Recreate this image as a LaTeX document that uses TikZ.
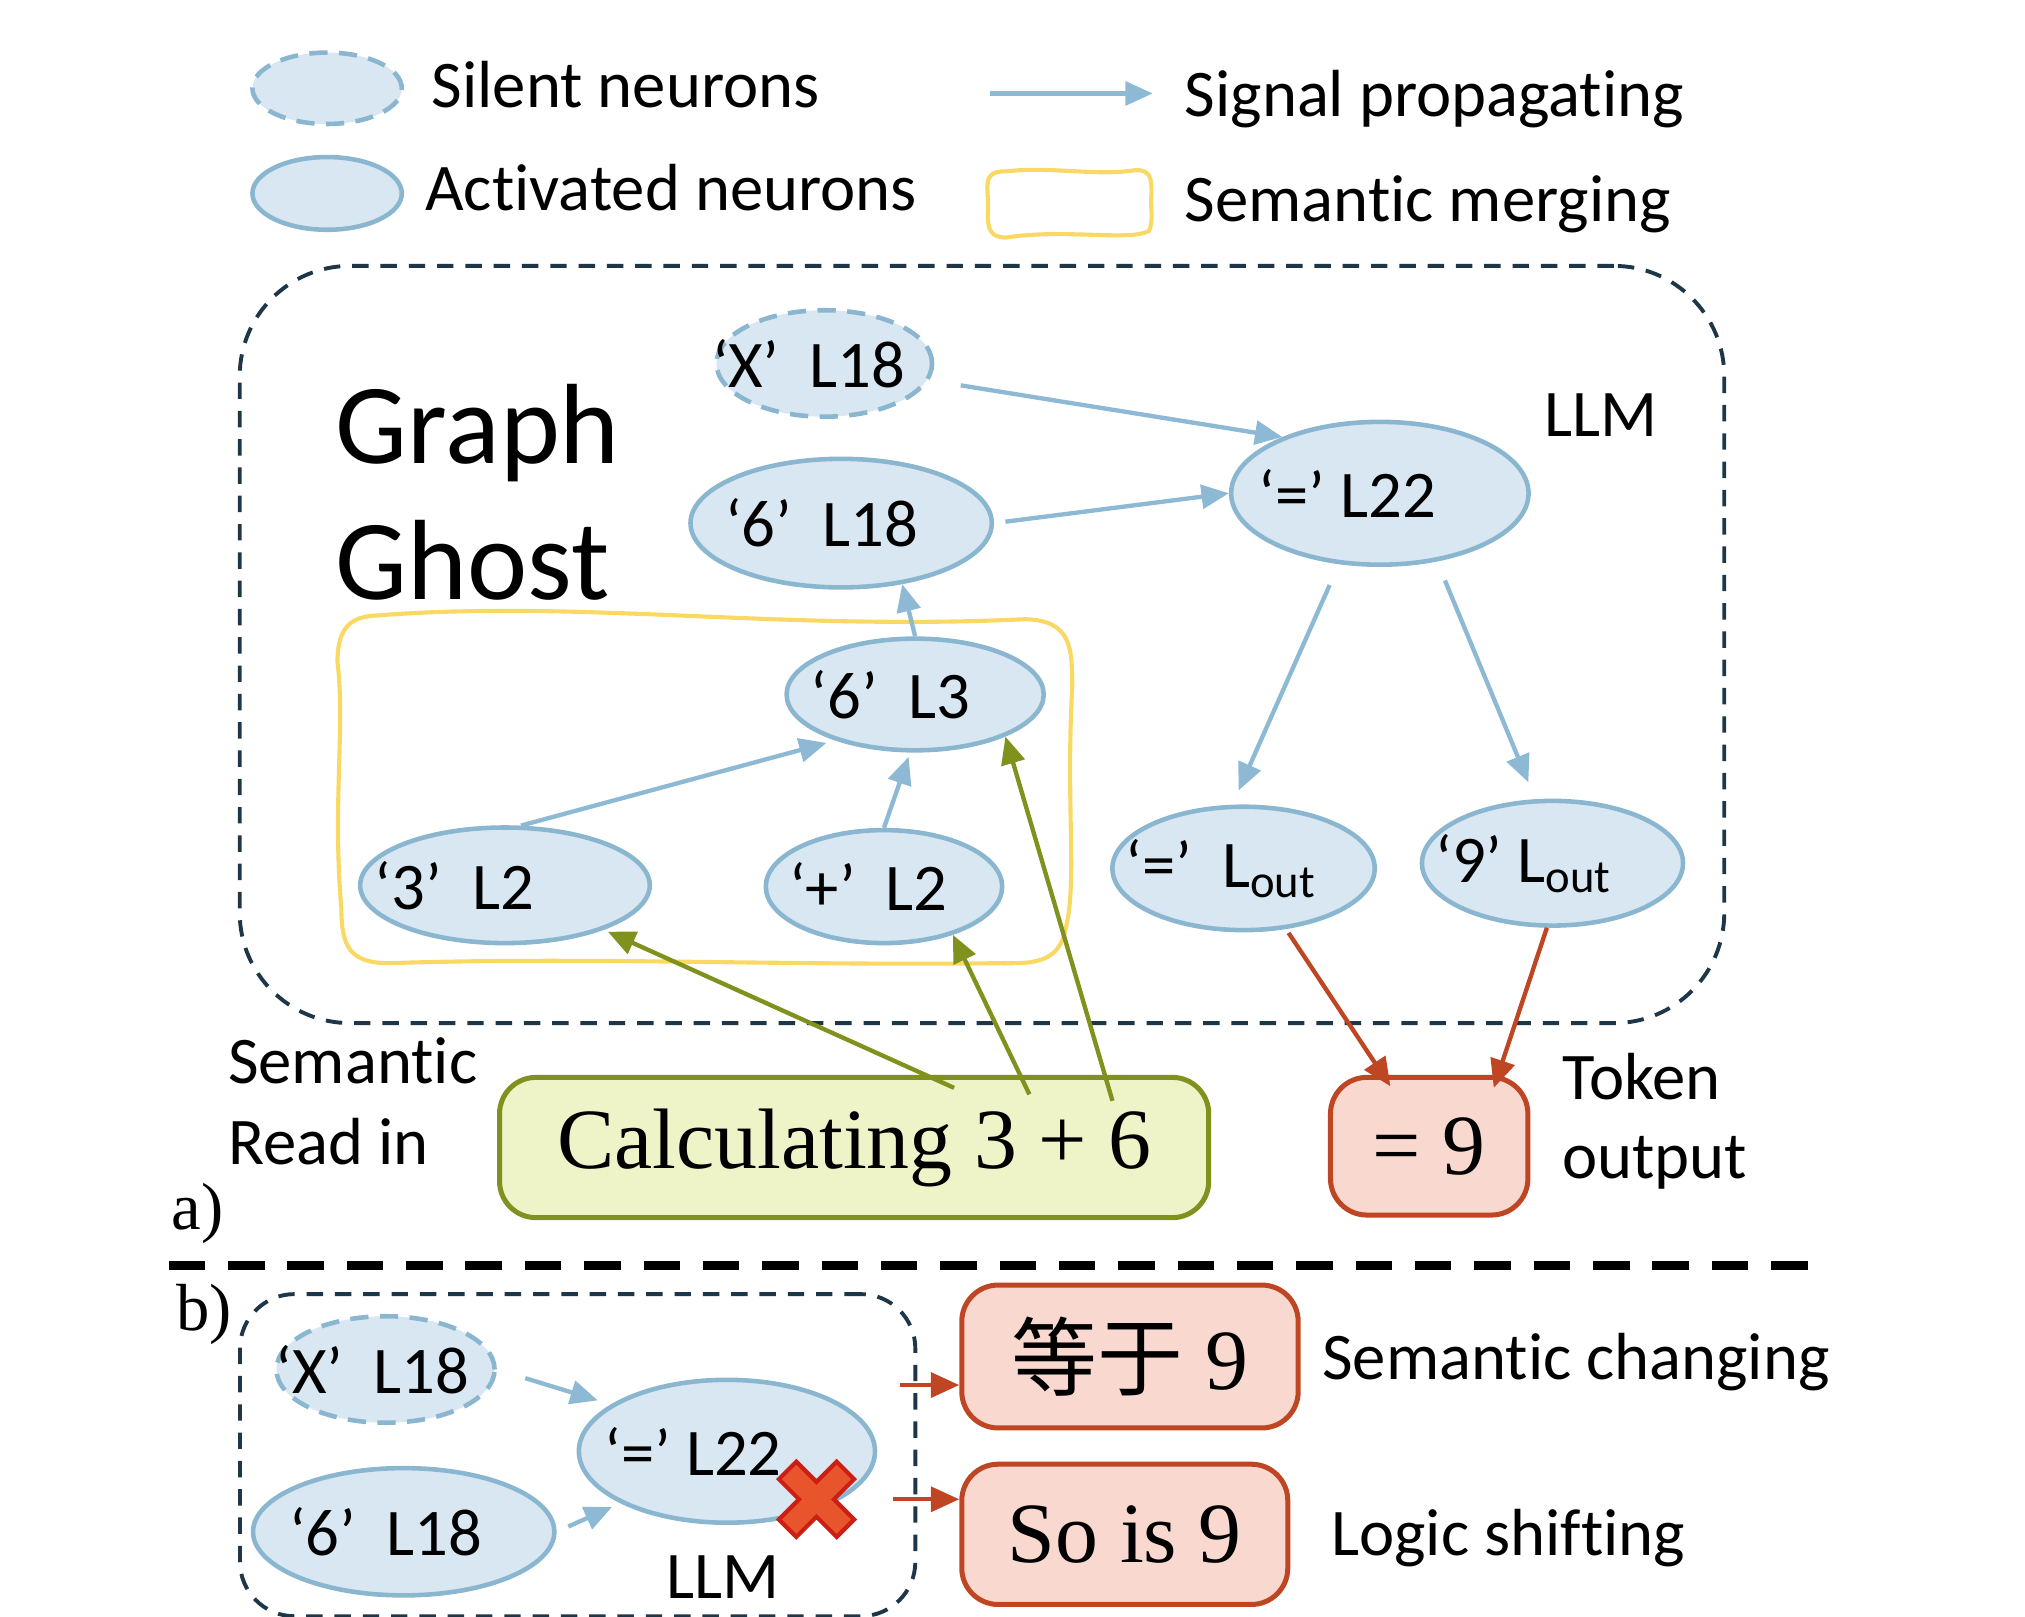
\documentclass[tikz,border=0pt]{standalone}
\usepackage{fontspec}
\setmainfont{Carlito}[Ligatures=NoCommon]
\newfontfamily\serifbox{Liberation Serif}
\newfontfamily\cjk{Noto Sans CJK SC}
\usepackage{tikz}
\usetikzlibrary{positioning}
\usetikzlibrary{arrows.meta}
\usetikzlibrary{shapes,calc}
\definecolor{neuronfill}{RGB}{216,231,241}
\definecolor{neuronline}{RGB}{138,182,208}
\definecolor{sigblue}{RGB}{141,185,213}
\definecolor{mergeyellow}{RGB}{250,216,100}
\definecolor{readolive}{RGB}{128,145,30}
\definecolor{readfill}{RGB}{238,243,200}
\definecolor{outred}{RGB}{190,70,35}
\definecolor{outfill}{RGB}{249,216,207}
\definecolor{llmnavy}{RGB}{30,55,72}
\definecolor{crossfill}{RGB}{232,85,45}
\definecolor{crossline}{RGB}{205,30,20}
\newcommand{\mainsize}{\fontsize{14.6}{17}\selectfont}
\newcommand{\bigsize}{\fontsize{25}{29}\selectfont}
\newcommand{\boxsize}{\fontsize{18.8}{22}\selectfont}
\tikzset{neuron/.style={ellipse,fill=neuronfill,draw=neuronline,line width=1pt,inner sep=0pt,font=\mainsize},
  silent neuron/.style={neuron,dash pattern=on 4pt off 2.5pt},
  neuron text/.style={font=\mainsize,inner sep=0pt},
  out box/.style={rectangle,rounded corners=0.28cm,fill=outfill,draw=outred,line width=1.1pt,inner sep=0pt,font=\serifbox\boxsize},
  llm box/.style={rectangle,draw=llmnavy,line width=0.85pt,dash pattern=on 3.6pt off 2.6pt,inner sep=0pt},
  sig/.style={color=sigblue,line width=0.95pt,-{Triangle[length=6pt,width=5.2pt]}},
  feed/.style={color=readolive,line width=0.95pt,-{Triangle[length=6pt,width=5.2pt]}},
  emit/.style={color=outred,line width=0.95pt,-{Triangle[length=6.2pt,width=5.4pt]}},
  label text/.style={font=\mainsize,inner sep=0pt},
}

\begin{document}
\begin{tikzpicture}[x=0.01cm, y=-0.01cm]
  \useasboundingbox (0,0) rectangle (1560,1245);

  % legend
  \node[silent neuron, minimum width=1.15cm, minimum height=0.55cm] (lgsilent) at (252,68) {};
  \node[label text, anchor=base west] (lgsilenttxt) at (332,83) {Silent neurons};
  \node[neuron, minimum width=1.15cm, minimum height=0.56cm] (lgactive) at (252,149) {};
  \node[label text, anchor=base west] (lgactivetxt) at (327,162) {Activated neurons};
  \coordinate (lgsigA) at (763,72);
  \coordinate (lgsigB) at (888,72);
  \draw[sig] (lgsigA) -- (lgsigB);
  \node[label text, anchor=base west] (lgsigtxt) at (912,90) {Signal propagating};
  \draw[mergeyellow, line width=0.9pt] (775,132) .. controls (810,128) and (845,136) .. (875,131)
    .. controls (888,131) and (887,140) .. (887,150) .. controls (886,160) and (889,170) .. (885,178)
    .. controls (870,186) and (820,176) .. (775,183) .. controls (762,183) and (761,175) .. (761,165)
    .. controls (762,152) and (759,142) .. (762,137) .. controls (765,132) and (770,132) .. (775,132) -- cycle;
  \node[label text, anchor=base west] (lgmergetxt) at (912,171) {Semantic merging};

  % part a)
  \node[llm box, rounded corners=0.85cm, minimum width=11.43cm, minimum height=5.83cm] (llm) at (756.5,496.5) {};
  \node[label text] (llmtxt) at (1233,320) {LLM};
  \node[font=\bigsize, inner sep=0pt, anchor=base west] (graph) at (258,357) {Graph};
  \node[font=\bigsize, inner sep=0pt, anchor=base west] (ghost) at (258,462) {Ghost};

  \draw[mergeyellow, line width=0.9pt] (292,474) .. controls (450,462) and (600,486) .. (790,477)
    .. controls (826,478) and (826,500) .. (826,530) .. controls (821,620) and (830,680) .. (821,715)
    .. controls (816,744) and (792,742) .. (770,742) .. controls (600,744) and (450,737) .. (300,742)
    .. controls (270,742) and (263,730) .. (263,700) .. controls (256,620) and (266,560) .. (260,510)
    .. controls (260,478) and (275,475) .. (292,474) -- cycle;

  \node[silent neuron, minimum width=1.66cm, minimum height=0.82cm,
    label={[neuron text, xshift=-0.12cm]center:‘X’~~L18}] (x18) at (635,280) {};
  \node[neuron, minimum width=2.32cm, minimum height=0.99cm,
    label={[neuron text, xshift=-0.15cm]center:‘6’~~L18}] (six18) at (648,403) {};
  \node[neuron, minimum width=2.29cm, minimum height=1.10cm,
    label={[neuron text, xshift=-0.25cm]center:‘=’ L22}] (eq22) at (1063,380) {};
  \node[neuron, minimum width=1.98cm, minimum height=0.86cm,
    label={[neuron text, xshift=-0.19cm]center:‘6’~~L3}] (six3) at (705,535) {};
  \node[neuron, minimum width=2.23cm, minimum height=0.89cm,
    label={[neuron text, xshift=-0.39cm]center:‘3’~~L2}] (three2) at (389,682) {};
  \node[neuron, minimum width=1.82cm, minimum height=0.87cm,
    label={[neuron text, xshift=-0.12cm]center:‘+’~~L2}] (plus2) at (681,683) {};
  \node[neuron, minimum width=2.02cm, minimum height=0.95cm,
    label={[neuron text, xshift=-0.17cm]center:‘=’~~L\textsubscript{out}}] (eqout) at (958,669) {};
  \node[neuron, minimum width=2.01cm, minimum height=0.96cm,
    label={[neuron text, xshift=-0.22cm]center:‘9’ L\textsubscript{out}}] (nineout) at (1196,665) {};

  \node[rectangle, rounded corners=0.28cm, fill=readfill, draw=readolive, line width=1.1pt,
    minimum width=5.46cm, minimum height=1.08cm, inner sep=0pt, font=\serifbox\boxsize] (calc) at (658,884) {Calculating 3 + 6};
  \node[out box, minimum width=1.52cm, minimum height=1.06cm] (tok) at (1101,883) {= 9};

  \node[label text, anchor=base west] (semtxt) at (175,835) {Semantic};
  \node[label text, anchor=base west] (readtxt) at (175,897) {Read in};
  \node[label text, anchor=base west] (tokentxt) at (1203,847) {Token};
  \node[label text, anchor=base west] (outputtxt) at (1203,908) {output};
  \node[font=\serifbox\mainsize, inner sep=0pt] (parta) at (152,935) {a)};

  \draw[sig, shorten <=7pt] (x18) -- (eq22.150);
  \draw[sig, shorten <=2.5pt] (six18.east) -- (eq22.west);
  \draw[sig, shorten <=5pt, shorten >=3.4pt] (eq22.240) -- (eqout.100);
  \draw[sig, shorten <=4.5pt, shorten >=4pt] (eq22.310) -- (nineout.105);
  \draw[sig] (six3.north) -- (six18.315);
  \draw[sig, shorten >=2pt] (three2.75) -- (six3.210);
  \draw[sig, shorten >=1pt] (plus2.north) -- (six3.265);

  \coordinate (feedA) at ($(calc.north)+(77,10)$);
  \coordinate (feedB) at ($(calc.north)+(135,15)$);
  \coordinate (feedC) at ($(calc.north)+(199,20)$);
  \draw[feed, shorten >=1pt] (feedA) -- (three2);
  \draw[feed] (feedB) -- (plus2.325);
  \draw[feed] (feedC) -- (six3.335);

  \draw[emit, shorten <=1pt, shorten >=-3pt] (eqout.305) -- (tok.123);
  \draw[emit, shorten >=-3pt] (nineout.265) -- (tok.46);

  \draw[black, line width=2pt, dash pattern=on 8pt off 5pt] (130,975) -- (1395,975);

  % part b)
  \node[font=\serifbox\mainsize, inner sep=0pt] (partb) at (157,1013) {b)};
  \node[llm box, rounded corners=0.42cm, minimum width=5.20cm, minimum height=2.48cm] (llmb) at (445,1121) {};
  \node[label text] (llmbtxt) at (557,1215) {LLM};
  \node[silent neuron, minimum width=1.68cm, minimum height=0.82cm,
    label={[neuron text, xshift=-0.10cm]center:‘X’~~L18}] (x18b) at (297,1055) {};
  \node[neuron, minimum width=2.32cm, minimum height=0.98cm,
    label={[neuron text, xshift=-0.14cm]center:‘6’~~L18}] (six18b) at (311,1180) {};
  \node[neuron, minimum width=2.28cm, minimum height=1.10cm,
    label={[neuron text, xshift=-0.26cm]center:‘=’ L22}] (eq22b) at (560,1118) {};

  \draw[sig, shorten <=6.5pt, shorten >=3pt] (x18b.east) -- (eq22b.158);
  \draw[sig, shorten <=2.8pt, shorten >=2pt] (six18b.east) -- (eq22b.206);

  \begin{scope}[shift={(629,1155)}, rotate=45]
    \filldraw[fill=crossfill, draw=crossline, line width=0.9pt]
      (9.5,9.5) -- (9.5,31.5) -- (-9.5,31.5) -- (-9.5,9.5) -- (-31.5,9.5) -- (-31.5,-9.5)
      -- (-9.5,-9.5) -- (-9.5,-31.5) -- (9.5,-31.5) -- (9.5,-9.5) -- (31.5,-9.5) -- (31.5,9.5) -- cycle;
  \end{scope}

  \node[out box, minimum width=2.59cm, minimum height=1.10cm] (chg) at (870.5,1045) {{\cjk 等于} 9};
  \node[out box, minimum width=2.51cm, minimum height=1.08cm] (shift) at (866.5,1182) {So is 9};
  \node[label text, anchor=base west] (chgtxt) at (1018,1063) {Semantic changing};
  \node[label text, anchor=base west] (shifttxt) at (1025,1198) {Logic shifting};

  \coordinate (emitA) at (693,1067);
  \coordinate (emitB) at (688,1155);
  \draw[emit] (emitA) -- (emitA -| chg.west);
  \draw[emit] (emitB) -- (emitB -| shift.west);
\end{tikzpicture}
\end{document}
